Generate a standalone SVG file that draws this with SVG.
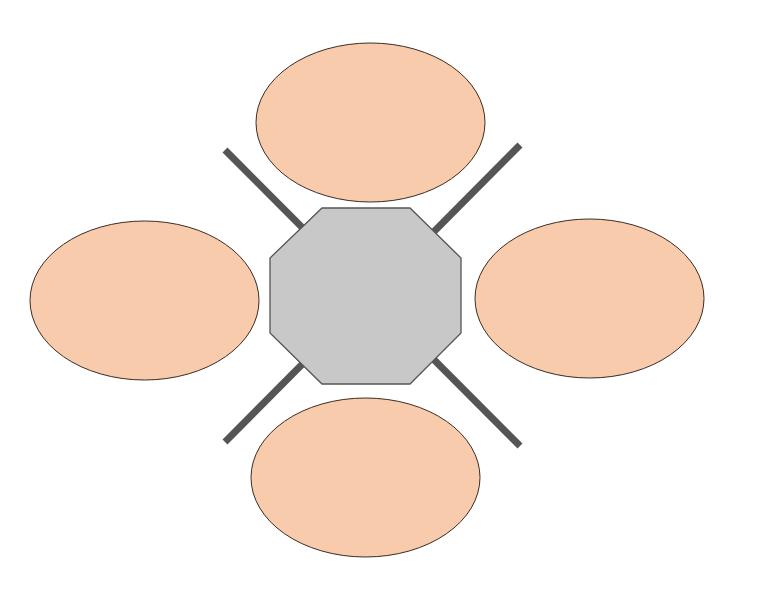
<svg xmlns="http://www.w3.org/2000/svg" width="768" height="594" viewBox="0 0 768 594">
<style>
.ell{fill:#f7cbab;stroke:#3b2c22;stroke-width:1}
.conn{stroke:#555555;stroke-width:7;fill:none}
.oct{fill:#c8c8c8;stroke:#555555;stroke-width:1.3}
</style>
<rect width="768" height="594" fill="#ffffff"/>
<g id="connectors">
<line class="conn" x1="225" y1="150" x2="520" y2="446"/>
<line class="conn" x1="520" y1="145" x2="225" y2="442"/>
</g>
<g id="node-center">
<polygon class="oct" points="322,208 410,208 461,258 461,333 410,384 322,384 270,333 270,258"/>
</g>
<g id="node-top">
<ellipse class="ell" cx="370.5" cy="122.5" rx="114.5" ry="79.5"/>
</g>
<g id="node-left">
<ellipse class="ell" cx="144.5" cy="300.5" rx="114.5" ry="79.5"/>
</g>
<g id="node-right">
<ellipse class="ell" cx="589.5" cy="298.5" rx="114.5" ry="79.5"/>
</g>
<g id="node-bottom">
<ellipse class="ell" cx="365.5" cy="477.5" rx="114.5" ry="79.5"/>
</g>
</svg>
